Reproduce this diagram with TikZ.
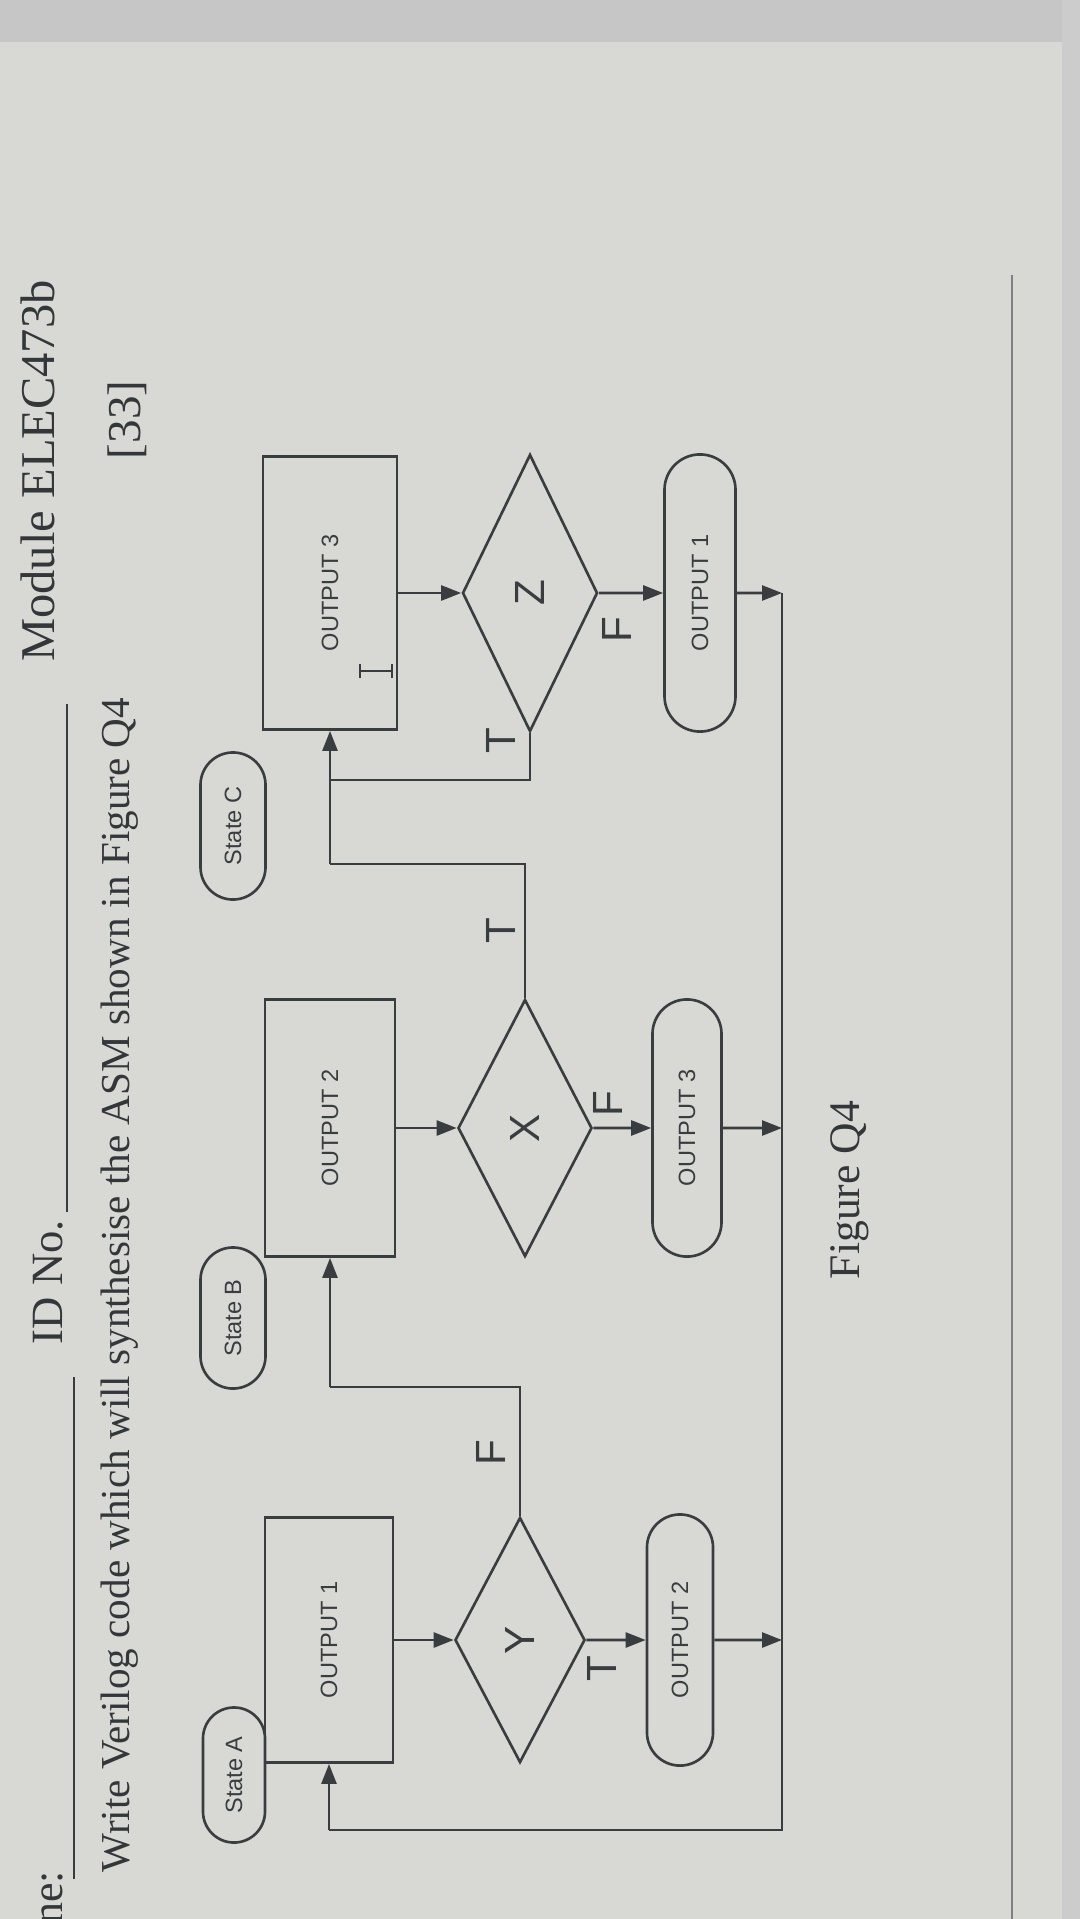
\documentclass[tikz,border=0pt]{standalone}
\usepackage{fontspec}
\setmainfont{Liberation Serif}
\newfontfamily\diag{Liberation Sans}
\usetikzlibrary{shapes.geometric,shapes.misc,arrows.meta}
\definecolor{paper}{HTML}{D8D8D5}
\definecolor{ink}{HTML}{3A3D40}
\begin{document}
\begin{tikzpicture}[x=0.01cm,y=-0.01cm,
  ln/.style={draw=ink,line width=0.75pt},
  arr/.style={ln,-{Triangle[width=0.15cm,length=0.2cm]}},
  pill/.style={ln,rounded rectangle,rotate=90,inner sep=0pt,font=\diag\fontsize{6.7}{8}\selectfont,text=ink},
  sbox/.style={ln,rectangle,rotate=90,inner sep=0pt,font=\diag\fontsize{6.7}{8}\selectfont,text=ink},
  dia/.style={ln,diamond,rotate=90,inner sep=0pt,font=\diag\fontsize{12}{14}\selectfont,text=ink},
  lbl/.style={rotate=90,font=\diag\fontsize{12}{14}\selectfont,text=ink},
  hdr/.style={rotate=90,text=ink!90!black}]
\useasboundingbox (0,0) rectangle (1080,1919);
\fill[paper] (0,0) rectangle (1080,1919);
\fill[gray!45] (0,0) rectangle (1080,42);
\fill[gray!40] (1062,0) rectangle (1080,1919);
% header
\node[hdr,font=\fontsize{12.5}{15}\selectfont] (ne) at (52,1898) {ne:};
\coordinate (n1) at (74,1377); \coordinate (n2) at (74,1879);
\draw[ln] (n1) -- (n2);
\node[hdr,font=\fontsize{12.7}{15}\selectfont] (id) at (48,1282) {ID No.};
\coordinate (i1) at (67,704); \coordinate (i2) at (67,1212);
\draw[ln] (i1) -- (i2);
\node[hdr,font=\fontsize{13.8}{16}\selectfont] (mod) at (38,471) {Module ELEC473b};
\node[hdr,font=\fontsize{11.7}{14}\selectfont] (q) at (120,1285) {Write Verilog code which will synthesise the ASM shown in Figure Q4};
\node[hdr,font=\fontsize{13.4}{16}\selectfont] (mk) at (127,420) {[33]};
\coordinate (r1) at (1012,275); \coordinate (r2) at (1012,1919);
\draw[ln,draw=gray] (r1) -- (r2);
\node[hdr,font=\fontsize{12.4}{15}\selectfont] (fig) at (850,1190) {Figure Q4};
% states
\node[pill,minimum width=1.35cm,minimum height=0.62cm] (stA) at (234,1775) {State A};
\node[pill,minimum width=1.41cm,minimum height=0.65cm] (stB) at (233,1318) {State B};
\node[pill,minimum width=1.47cm,minimum height=0.65cm] (stC) at (233,826) {State C};
\node[sbox,minimum width=2.45cm,minimum height=1.28cm] (b1) at (329,1640) {OUTPUT 1};
\node[sbox,minimum width=2.57cm,minimum height=1.30cm] (b2) at (330,1128) {OUTPUT 2};
\node[sbox,minimum width=2.73cm,minimum height=1.34cm] (b3) at (330,593) {OUTPUT 3};
\node[dia,minimum width=2.45cm,minimum height=1.30cm] (dY) at (520,1640) {Y};
\node[dia,minimum width=2.57cm,minimum height=1.34cm] (dX) at (525,1128) {X};
\node[dia,minimum width=2.77cm,minimum height=1.35cm] (dZ) at (530,593) {Z};
\node[pill,minimum width=2.51cm,minimum height=0.66cm] (o2) at (680,1640) {OUTPUT 2};
\node[pill,minimum width=2.57cm,minimum height=0.69cm] (o3) at (687,1128) {OUTPUT 3};
\node[pill,minimum width=2.77cm,minimum height=0.71cm] (o1) at (700,593) {OUTPUT 1};
% cursor I-beam
\coordinate (c1) at (360,671); \coordinate (c2) at (392,671);
\draw[ink,line width=0.4pt] (c1) -- (c2) (360,664) -- (360,678) (392,664) -- (392,678);
% row connectors
\draw[arr] (b1) -- (dY);
\draw[arr] (b2) -- (dX);
\draw[arr] (b3) -- (dZ);
\draw[arr] (dY) -- (o2);
\draw[arr] (dX) -- (o3);
\draw[arr] (dZ) -- (o1);
\node[lbl] (tY) at (602,1669) {T};
\node[lbl] (fX) at (608,1104) {F};
\node[lbl] (fZ) at (617,630) {F};
% loop back to state A
\coordinate (L1) at (782,593);
\coordinate (L2) at (782,1128);
\coordinate (L3) at (782,1640);
\coordinate (L0) at (782,1830);
\coordinate (A0) at (329,1830);
\draw[arr] (o1) -- (L1);
\draw[arr] (o3) -- (L2);
\draw[arr] (o2) -- (L3);
\draw[ln] (L1) -- (L0) -- (A0);
\draw[arr] (A0) -- (b1);
% Y false -> state B
\coordinate (yf1) at (520,1387);
\coordinate (yf2) at (330,1387);
\draw[ln] (dY.east) -- (yf1) -- (yf2);
\draw[arr] (yf2) -- (b2);
\node[lbl] (fY) at (491,1453) {F};
% X true -> state C
\coordinate (xt1) at (525,864);
\coordinate (xt2) at (330,864);
\draw[ln] (dX.east) -- (xt1) -- (xt2);
\draw[arr] (xt2) -- (b3);
\node[lbl] (tX) at (501,931) {T};
% Z true -> state C
\coordinate (zt1) at (530,780);
\coordinate (zt2) at (330,780);
\draw[ln] (dZ.west) -- (zt1) -- (zt2);
\node[lbl] (tZ) at (501,741) {T};
\end{tikzpicture}
\end{document}
